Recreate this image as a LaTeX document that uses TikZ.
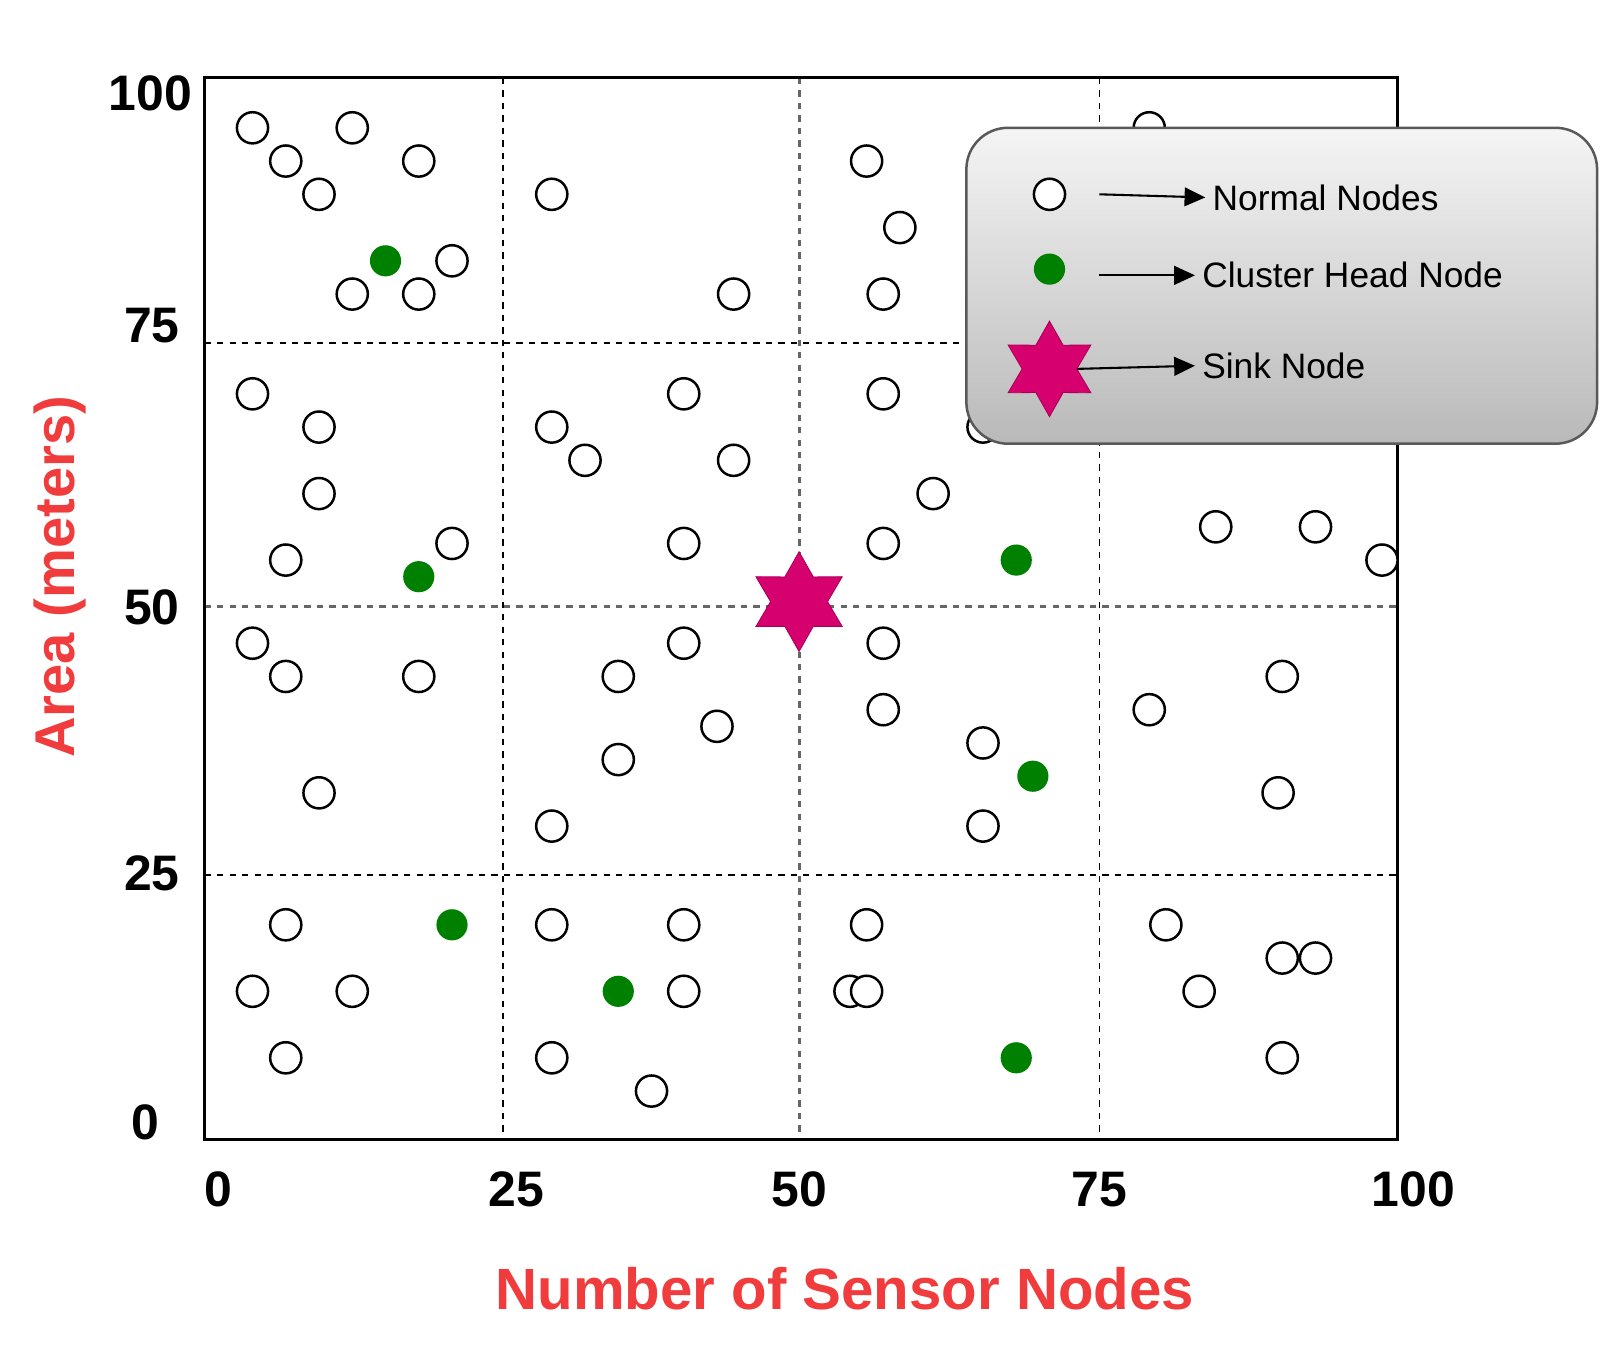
\documentclass[tikz,border=0pt]{standalone}
\usepackage{fontspec}
\setmainfont{Liberation Sans}
\usetikzlibrary{shapes.geometric,arrows.meta}
\definecolor{tred}{HTML}{F03C3C}
\definecolor{sinkc}{HTML}{D6006E}
\definecolor{chg}{HTML}{008000}
\tikzset{
 nn/.style={circle,draw=black,fill=white,line width=1.2pt,minimum size=15pt,inner sep=0pt},
 ch/.style={circle,fill=chg,minimum size=15pt,inner sep=0pt},
 sink/.style={star,star points=6,star point ratio=1.75,fill=sinkc,draw=sinkc!80!black,minimum size=48pt,inner sep=0pt},
 grid/.style={dashed,line width=0.8pt},
 tick/.style={font=\bfseries\fontsize{24}{28}\selectfont},
 leg/.style={font=\fontsize{17}{20}\selectfont,anchor=west},
 larrow/.style={-{Triangle[length=10pt,width=9pt]},line width=1pt}
}
\begin{document}
\begin{tikzpicture}[x=0.5pt,y=-0.5pt]
\useasboundingbox (0,0) rectangle (1560,1300);
% grid
\draw[grid] (484,75) -- (484,1097) (1058,75) -- (1058,1097) (197,330) -- (1345,330) (197,842) -- (1345,842);
\draw[grid,gray!80!black,line width=1.4pt] (769,75) -- (769,1097) (197,584) -- (1345,584);
\draw[line width=1.5pt] (197,75) rectangle (1345,1097);
% normal nodes
\foreach [count=\i] \p in {(243,123),(275,155),(307,187),(339,123),(403,155),(339,283),(403,283),(435,251),(531,187),(706,283),(834,155),(866,219),(850,283),(1106,123),
(243,379),(307,411),(307,475),(275,539),(435,523),(531,411),(563,443),(658,379),(706,443),(658,523),(850,379),(946,411),(898,475),(850,523),(1170,507),(1266,507),(1330,539),
(243,619),(275,651),(403,651),(307,763),(595,651),(595,731),(658,619),(690,699),(531,795),(850,619),(850,683),(946,715),(946,795),(1106,683),(1234,651),(1230,763),
(275,890),(243,954),(339,954),(275,1018),(531,890),(658,890),(658,954),(531,1018),(627,1050),(834,890),(818,954),(834,954),(1122,890),(1154,954),(1234,922),(1266,922),(1234,1018)}
 \node[nn] (n\i) at \p {};
\foreach [count=\i] \p in {(371,251),(403,555),(435,890),(595,954),(978,539),(994,747),(978,1018)}
 \node[ch] (c\i) at \p {};
\node[sink] (sink) at (769,579) {};
% ticks
\node[tick,anchor=east] (y100) at (192,90) {100};
\node[tick,anchor=east] (y75) at (180,313) {75};
\node[tick,anchor=east] (y50) at (180,584) {50};
\node[tick,anchor=east] (y25) at (180,840) {25};
\node[tick,anchor=east] (y0) at (160,1080) {0};
\node[tick] (x0) at (210,1145) {0};
\node[tick] (x25) at (497,1145) {25};
\node[tick] (x50) at (769,1145) {50};
\node[tick] (x75) at (1058,1145) {75};
\node[tick] (x100) at (1360,1145) {100};
\node[tick,text=tred,rotate=90,font=\bfseries\fontsize{27}{30}\selectfont] (ylab) at (58,555) {Area (meters)};
\node[tick,text=tred,font=\bfseries\fontsize{28}{32}\selectfont] (xlab) at (813,1240) {Number of Sensor Nodes};
% legend
\node[draw=gray!70!black,line width=1.2pt,rounded corners=20pt,top color=gray!8,bottom color=gray!55,minimum width=303.5pt,minimum height=152pt,inner sep=0pt] (legend) at (1233.5,275) {};
\node[nn] (ln) at (1010,187) {};
\node[ch] (lc) at (1010,259) {};
\node[sink,minimum size=46pt] (ls) at (1010,355) {};
\node[leg] (tn) at (1160,190) {Normal Nodes};
\node[leg] (tc) at (1150,265) {Cluster Head Node};
\node[leg] (ts) at (1150,352) {Sink Node};
\coordinate (a1) at (1058,187);
\coordinate (a2) at (1058,265);
\draw[larrow] (a1) -- (tn.west);
\draw[larrow] (a2) -- (tc.west);
\draw[larrow] (ls.east) -- (ts.west);
\end{tikzpicture}
\end{document}
